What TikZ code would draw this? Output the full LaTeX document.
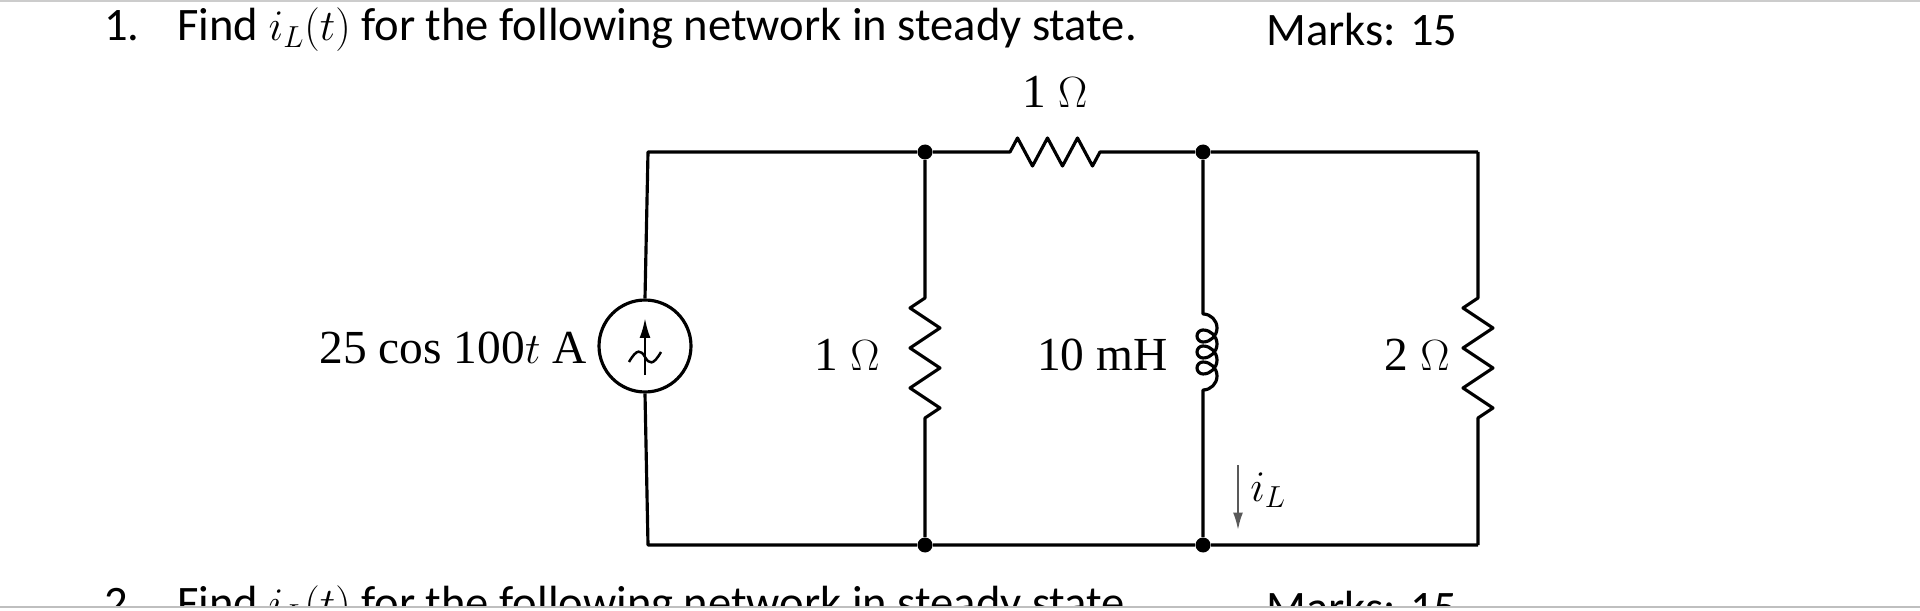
\documentclass[tikz,border=0pt]{standalone}
\usepackage{fontspec}
\setmainfont{Liberation Serif}
\newfontfamily\titlefont{Carlito}
\usetikzlibrary{arrows.meta,positioning}
\begin{document}
\begin{tikzpicture}[x=0.02cm,y=-0.02cm,
			wire/.style = {line width=1.8pt, line join=round},
			dot/.style = {circle, fill, inner sep=0pt, minimum size=0.3cm},
			lbl/.style = {font=\fontsize{27}{27}\selectfont, inner sep=0pt},
			title/.style = {font=\titlefont\fontsize{26.5}{26.5}\selectfont, inner sep=0pt, anchor=west}]
			
			\useasboundingbox (0,0) rectangle (1920,611);
			\draw[gray!40, line width=0.6pt] (0,1) -- (1920,1);
			% text lines
			\node[title] (q1) at (104,30) {1.\hspace{0.75cm}Find $i_L(t)$ for the following network in steady state.};
			\node[title] (m1) at (1266,30) {Marks: 15};
			\begin{scope}
				\clip (0,0) rectangle (1920,607);
				\node[title] (q2) at (104,608) {2.\hspace{0.75cm}Find $i_L(t)$ for the following network in steady state.};
				\node[title] (m2) at (1266,608) {Marks: 15};
			\end{scope}
			\draw[gray!50, line width=0.8pt] (0,607) -- (1920,607);
			
			% corners and junctions
			\coordinate (tl) at (648,152);
			\coordinate (bl) at (648,545);
			\coordinate (tr) at (1478,152);
			\coordinate (br) at (1478,545);
			\node[dot] (ta) at (925,152) {};
			\node[dot] (tb) at (1203,152) {};
			\node[dot] (ba) at (925,545) {};
			\node[dot] (bb) at (1203,545) {};
			
			% source
			\node[circle, draw, line width=1.8pt, minimum size=1.84cm, inner sep=0pt] (src) at (645,346) {};
			\draw[wire] (src.north) -- (tl) -- (ta);
			\draw[wire] (src.south) -- (bl) -- (ba) -- (bb) -- (br);
			\draw[line width=1.4pt, -{Latex[length=0.4cm,width=0.22cm]}] (645,375) -- (645,318);
			\draw[line width=1.4pt] (629,362) .. controls (637,348) and (641,350) .. (645,357)
				.. controls (649,364) and (653,366) .. (661,352);
			\node[lbl, anchor=east] (srcl) at (587,348) {25 cos 100$t$ A};
			
			% top resistor
			\coordinate (r1a) at (1010,152);
			\coordinate (r1b) at (1100,152);
			\draw[wire] (ta) -- (r1a) -- ++(7.5,-14) -- ++(15,28) -- ++(15,-28) -- ++(15,28) -- ++(15,-28) -- ++(15,28) -- ++(7.5,-14) -- (r1b) -- (tb) -- (tr);
			\node[lbl] (r1l) at (1055,92) {1 $\Omega$};
			
			% middle resistor
			\coordinate (r2a) at (925,298);
			\coordinate (r2b) at (925,418);
			\draw[wire] (ta) -- (r2a) -- ++(-15,10) -- ++(30,20) -- ++(-30,20) -- ++(30,20) -- ++(-30,20) -- ++(30,20) -- ++(-15,10) -- (r2b) -- (ba);
			\node[lbl, anchor=east] (r2l) at (880,355) {1 $\Omega$};
			
			% inductor
			\coordinate (la) at (1203,314);
			\draw[wire] (tb) -- (la)
				\foreach \k in {1,...,3} { arc[start angle=90, end angle=-90, radius=0.28cm] arc[start angle=270, end angle=90, radius=0.12cm]}
				arc[start angle=90, end angle=-90, radius=0.28cm] -- (bb);
			\node[lbl, anchor=east] (ll) at (1168,355) {10 mH};
			
			% right resistor
			\coordinate (r3a) at (1478,298);
			\coordinate (r3b) at (1478,418);
			\draw[wire] (tr) -- (r3a) -- ++(-15,10) -- ++(30,20) -- ++(-30,20) -- ++(30,20) -- ++(-30,20) -- ++(30,20) -- ++(-15,10) -- (r3b) -- (br);
			\node[lbl, anchor=east] (r3l) at (1450,355) {2 $\Omega$};
			
			% current arrow
			\coordinate (ia) at (1238,465);
			\coordinate (ib) at (1238,530);
			\draw[gray!70!black, line width=1.2pt, -{Latex[length=0.35cm,width=0.2cm]}] (ia) -- (ib);
			\node[lbl, anchor=west] (il) at (1250,490) {$i_L$};
			\end{tikzpicture}
\end{document}
